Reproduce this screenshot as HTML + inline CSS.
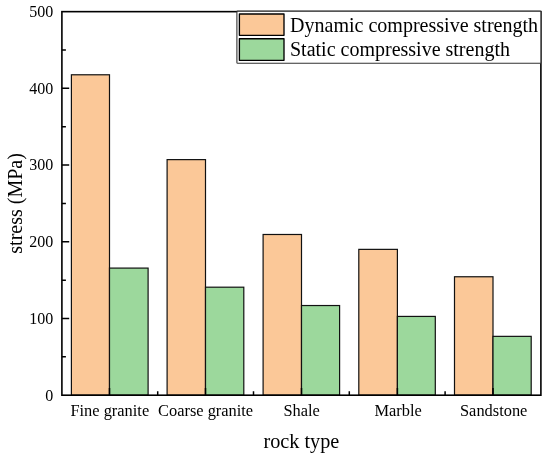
<!DOCTYPE html>
<html lang="en"><head><meta charset="utf-8"><title>Compressive strength by rock type</title>
<style>html,body{margin:0;padding:0;background:#fff;}svg{display:block;}text{font-family:"Liberation Serif","Times New Roman",serif;fill:#000;}</style></head><body>
<svg width="550" height="458" viewBox="0 0 550 458">
<rect x="0" y="0" width="550" height="458" fill="#fff"/>
<rect x="71.40" y="74.78" width="38.10" height="320.42" fill="#FBC898" stroke="#111" stroke-width="1.2"/>
<rect x="109.50" y="268.09" width="38.60" height="127.11" fill="#9CD89C" stroke="#111" stroke-width="1.2"/>
<rect x="167.10" y="159.62" width="38.40" height="235.58" fill="#FBC898" stroke="#111" stroke-width="1.2"/>
<rect x="205.50" y="287.19" width="38.30" height="108.01" fill="#9CD89C" stroke="#111" stroke-width="1.2"/>
<rect x="263.10" y="234.49" width="38.40" height="160.71" fill="#FBC898" stroke="#111" stroke-width="1.2"/>
<rect x="301.50" y="305.53" width="38.10" height="89.67" fill="#9CD89C" stroke="#111" stroke-width="1.2"/>
<rect x="358.80" y="249.37" width="38.60" height="145.83" fill="#FBC898" stroke="#111" stroke-width="1.2"/>
<rect x="397.40" y="316.42" width="37.90" height="78.78" fill="#9CD89C" stroke="#111" stroke-width="1.2"/>
<rect x="454.50" y="276.76" width="38.50" height="118.44" fill="#FBC898" stroke="#111" stroke-width="1.2"/>
<rect x="493.00" y="336.36" width="38.20" height="58.84" fill="#9CD89C" stroke="#111" stroke-width="1.2"/>
<path d="M61.90 356.84h4 M61.90 318.49h7.3 M61.90 280.13h4 M61.90 241.78h7.3 M61.90 203.42h4 M61.90 165.07h7.3 M61.90 126.71h4 M61.90 88.36h7.3 M61.90 50.00h4 M109.50 395.20v-7.3 M205.50 395.20v-7.3 M301.50 395.20v-7.3 M397.40 395.20v-7.3 M493.00 395.20v-7.3 M157.70 395.20v-4 M253.50 395.20v-4 M349.30 395.20v-4 M445.10 395.20v-4" stroke="#000" stroke-width="1.5" fill="none"/>
<rect x="61.9" y="11.65" width="479.00" height="383.55" fill="none" stroke="#000" stroke-width="1.6"/>
<rect x="236.9" y="11.15" width="304.00" height="52.05" rx="0.8" fill="#fff" stroke="#333" stroke-width="1.1"/>
<rect x="239.4" y="14.0" width="44.6" height="21.3" fill="#FBC898" stroke="#000" stroke-width="1.35" stroke-linejoin="round"/>
<rect x="239.4" y="38.7" width="44.6" height="21.6" fill="#9CD89C" stroke="#000" stroke-width="1.35" stroke-linejoin="round"/>
<text x="290" y="32" font-size="20.05">Dynamic compressive strength</text>
<text x="290" y="55.5" font-size="20">Static compressive strength</text>
<text x="53.3" y="400.60" font-size="16" text-anchor="end">0</text>
<text x="53.3" y="323.89" font-size="16" text-anchor="end">100</text>
<text x="53.3" y="247.18" font-size="16" text-anchor="end">200</text>
<text x="53.3" y="170.47" font-size="16" text-anchor="end">300</text>
<text x="53.3" y="93.76" font-size="16" text-anchor="end">400</text>
<text x="53.3" y="17.05" font-size="16" text-anchor="end">500</text>
<text x="109.80" y="415.9" font-size="16.4" text-anchor="middle">Fine granite</text>
<text x="205.60" y="415.9" font-size="16.4" text-anchor="middle">Coarse granite</text>
<text x="301.70" y="415.9" font-size="16.4" text-anchor="middle">Shale</text>
<text x="398.10" y="415.9" font-size="16.4" text-anchor="middle">Marble</text>
<text x="493.70" y="415.9" font-size="16.4" text-anchor="middle">Sandstone</text>
<text x="301.4" y="448.1" font-size="20.25" text-anchor="middle">rock type</text>
<text transform="translate(21.5 203.4) rotate(-90) scale(1 1.025)" font-size="20" text-anchor="middle">stress (MPa)</text>
</svg></body></html>
